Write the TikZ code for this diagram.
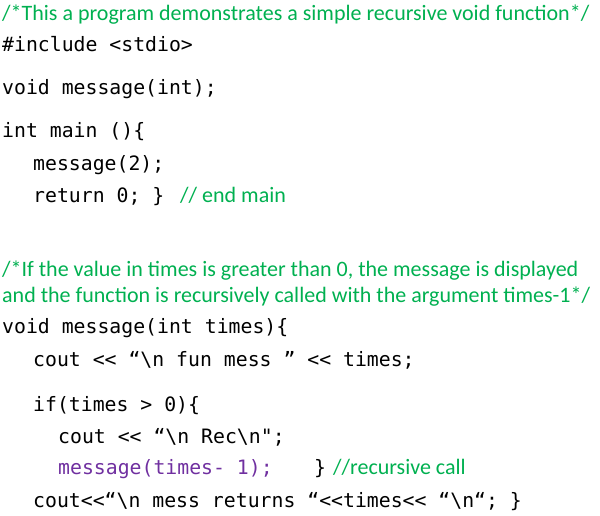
\documentclass[tikz,border=0pt]{standalone}
\usepackage{fontspec}
\setmainfont{Carlito}
\setmonofont{DejaVu Sans Mono}
\definecolor{cgreen}{RGB}{0,176,80}
\definecolor{cpurple}{RGB}{112,48,160}
\newcommand{\bsl}{\textbackslash}
\begin{document}
\begin{tikzpicture}[x=1pt,y=-1pt,
  code/.style={anchor=base west,inner sep=0pt,font=\ttfamily\fontsize{19.8}{20}\selectfont},
  cmt/.style={anchor=base west,inner sep=0pt,font=\fontsize{22}{22}\selectfont,text=cgreen}]
\useasboundingbox (0,0) rectangle (600,516);
\node[cmt] (c1) at (2,21) {/*This a program demonstrates a simple recursive void function*/};
\node[code] (l2) at (2,52) {\#include <stdio>};
\node[code] (l3) at (2,95) {void message(int);};
\node[code] (l4) at (2,138) {int main ()\{};
\node[code] (l5) at (33,171) {message(2);};
\node[code] (l6) at (33,202) {return 0; \}};
\node[cmt] (c6) at (180,202) {// end main};
\node[cmt] (c7) at (2,276) {/*If the value in times is greater than 0, the message is displayed};
\node[cmt] (c8) at (2,302) {and the function is recursively called with the argument times-1*/};
\node[code] (l9) at (2,333) {void message(int times)\{};
\node[code] (l10) at (33,366) {cout << “\bsl n fun mess ” << times;};
\node[code] (l11) at (33,411) {if(times > 0)\{};
\node[code] (l12) at (58,443) {cout << “\bsl n Rec\bsl n";};
\node[code,text=cpurple] (l13) at (58,474) {message(times- 1);};
\node[code] (l13b) at (314,474) {\}};
\node[cmt] (c13) at (333,474) {//recursive call};
\node[code] (l14) at (33,507) {cout<<“\bsl n mess returns “<<times<< “\bsl n“; \}};
\end{tikzpicture}
\end{document}
